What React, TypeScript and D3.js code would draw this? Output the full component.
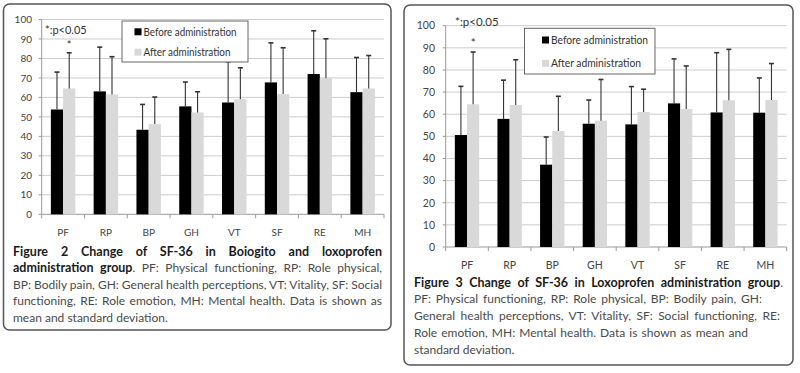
import React, { useLayoutEffect, useRef, useState } from "react";
import * as d3 from "d3";

const categories = ["PF", "RP", "BP", "GH", "VT", "SF", "RE", "MH"];
const yTicks = [0, 10, 20, 30, 40, 50, 60, 70, 80, 90, 100];
const seriesNames = ["Before administration", "After administration"];

// Figure 2 (Boiogito and loxoprofen)
const fig2Before = [53.8, 63.1, 43.4, 55.4, 57.4, 67.7, 72.0, 62.7];
const fig2BeforeSD = [19.2, 22.7, 13.0, 12.5, 20.9, 20.3, 22.2, 17.8];
const fig2After = [64.6, 61.5, 46.3, 52.3, 59.1, 61.7, 69.9, 64.6];
const fig2AfterSD = [18.3, 19.4, 13.9, 10.6, 16.1, 23.8, 20.2, 16.9];

// Figure 3 (Loxoprofen)
const fig3Before = [50.6, 57.9, 37.2, 55.7, 55.4, 64.9, 60.8, 60.7];
const fig3BeforeSD = [22.0, 17.5, 12.5, 10.7, 17.1, 20.1, 27.0, 15.7];
const fig3After = [64.5, 64.2, 52.4, 57.1, 61.0, 62.4, 66.3, 66.4];
const fig3AfterSD = [23.6, 20.4, 15.7, 18.6, 10.3, 19.4, 23.0, 16.5];

const significant = ["PF"];
const sigNote = "*:p<0.05";

const FONT = "Lato, 'Open Sans', sans-serif";
const BAR_COLORS = ["#000000", "#d9d9d9"];

type PanelProps = {
  before: number[];
  beforeSD: number[];
  after: number[];
  afterSD: number[];
  xRange: [number, number];
  yRange: [number, number];
  fontSize: number;
  yLabelX: number;
  xLabelY: number;
  legend: { x: number; y: number; w: number; h: number; sq: number; textX: number; rows: number[]; textLen: number[] };
  note: { x: number; y: number };
  starY: number;
};

function Panel(p: PanelProps) {
  const x = d3.scaleBand<string>().domain(categories).range(p.xRange).paddingInner(0).paddingOuter(0);
  const inner = d3.scaleBand<string>().domain(["before", "after"]).range([0, x.bandwidth()]).paddingInner(0).paddingOuter(0.75);
  const y = d3.scaleLinear().domain([0, 100]).range(p.yRange);
  const series = [
    { key: "before", vals: p.before, sd: p.beforeSD, color: BAR_COLORS[0] },
    { key: "after", vals: p.after, sd: p.afterSD, color: BAR_COLORS[1] },
  ];
  const [x0, x1] = p.xRange;
  const bounds = categories.map((c) => x(c)!).concat([x1]);
  return (
    <g>
      {yTicks.map((t) => (
        <g key={t}>
          {t > 0 && <line x1={x0} x2={x1} y1={y(t)} y2={y(t)} stroke="#cccccc" strokeWidth={1} />}
          <line x1={x0 - 3} x2={x0} y1={y(t)} y2={y(t)} stroke="#999" strokeWidth={1} />
          <text x={p.yLabelX} y={y(t) + p.fontSize * 0.36} textAnchor="end" fontSize={p.fontSize} fill="#444" fontFamily={FONT}>
            {t}
          </text>
        </g>
      ))}
      <line x1={x0} x2={x0} y1={y(0)} y2={y(100)} stroke="#999" strokeWidth={1} />
      <line x1={x0} x2={x1} y1={y(0)} y2={y(0)} stroke="#999" strokeWidth={1} />
      {bounds.map((b, i) => (
        <line key={i} x1={b} x2={b} y1={y(0)} y2={y(0) + 4} stroke="#999" strokeWidth={1} />
      ))}
      {series.map((s) =>
        categories.map((c, i) => {
          const bx = x(c)! + inner(s.key)!;
          const bw = inner.bandwidth();
          const cx = bx + bw / 2;
          return (
            <g key={s.key + c}>
              <rect x={bx} y={y(s.vals[i])} width={bw} height={y(0) - y(s.vals[i])} fill={s.color} />
              <line x1={cx} x2={cx} y1={y(s.vals[i])} y2={y(s.vals[i] + s.sd[i])} stroke="#333" strokeWidth={1.1} />
              <line x1={cx - 2.5} x2={cx + 2.5} y1={y(s.vals[i] + s.sd[i])} y2={y(s.vals[i] + s.sd[i])} stroke="#333" strokeWidth={1.6} />
            </g>
          );
        })
      )}
      {categories.map((c) => (
        <text key={c} x={x(c)! + x.bandwidth() / 2} y={p.xLabelY} textAnchor="middle" fontSize={p.fontSize} fill="#444" fontFamily={FONT}>
          {c}
        </text>
      ))}
      {significant.map((c) => (
        <text key={c} x={x(c)! + inner("after")! + inner.bandwidth() / 2} y={p.starY} textAnchor="middle" fontSize={p.fontSize + 1} fill="#333" fontFamily={FONT}>
          *
        </text>
      ))}
      <text x={p.note.x} y={p.note.y} fontSize={p.fontSize + 1} fill="#333" fontFamily={FONT}>
        {sigNote}
      </text>
      <rect x={p.legend.x} y={p.legend.y} width={p.legend.w} height={p.legend.h} fill="#fff" stroke="#666" strokeWidth={1} />
      {seriesNames.map((n, i) => (
        <g key={n}>
          <rect x={p.legend.textX - p.legend.sq - 2} y={p.legend.rows[i] - p.legend.sq / 2} width={p.legend.sq} height={p.legend.sq} fill={BAR_COLORS[i]} />
          <text x={p.legend.textX} y={p.legend.rows[i] + p.fontSize * 0.38} fontSize={p.fontSize + 0.5} fill="#333" fontFamily={FONT} textLength={p.legend.textLen[i]} lengthAdjust="spacingAndGlyphs">
            {n}
          </text>
        </g>
      ))}
    </g>
  );
}

type Line = { parts: { t: string; bold?: boolean }[]; len?: number };

function CaptionLine({ x, y, line }: { x: number; y: number; line: Line }) {
  const ref = useRef<SVGTextElement>(null);
  const [ws, setWs] = useState(0);
  useLayoutEffect(() => {
    const el = ref.current;
    if (!el || !line.len) return;
    el.setAttribute("word-spacing", "0");
    const natural = el.getComputedTextLength();
    const text = line.parts.map((p) => p.t).join("");
    const gaps = (text.match(/ /g) || []).length;
    if (gaps > 0) setWs((line.len - natural) / gaps);
  }, [line]);
  return (
    <text ref={ref} x={x} y={y} fontSize={12} fontFamily={FONT} fill="#4a4a4a" wordSpacing={ws} style={{ whiteSpace: "pre" }}>
      {line.parts.map((pt, j) => (
        <tspan key={j} fontWeight={pt.bold ? 700 : 400} fontSize={pt.bold ? 12.5 : 12} fill={pt.bold ? "#1a1a1a" : "#4a4a4a"}>
          {pt.t}
        </tspan>
      ))}
    </text>
  );
}

function Caption({ x, y0, dy, lines }: { x: number; y0: number; dy: number; lines: Line[] }) {
  return (
    <g>
      {lines.map((l, i) => (
        <CaptionLine key={i} x={x} y={y0 + i * dy} line={l} />
      ))}
    </g>
  );
}

const caption2: Line[] = [
  { parts: [{ t: "Figure 2 Change of SF-36 in Boiogito and loxoprofen", bold: true }], len: 369 },
  { parts: [{ t: "administration group", bold: true }, { t: ". PF: Physical functioning, RP: Role physical," }], len: 369 },
  { parts: [{ t: "BP: Bodily pain, GH: General health perceptions, VT: Vitality, SF: Social" }], len: 369 },
  { parts: [{ t: "functioning, RE: Role emotion, MH: Mental health. Data is shown as" }], len: 369 },
  { parts: [{ t: "mean and standard deviation." }] },
];

const caption3: Line[] = [
  { parts: [{ t: "Figure 3 Change of SF-36 in Loxoprofen administration group", bold: true }, { t: "." }], len: 369 },
  { parts: [{ t: "PF: Physical functioning, RP: Role physical, BP: Bodily pain, GH:" }], len: 348 },
  { parts: [{ t: "General health perceptions, VT: Vitality, SF: Social functioning, RE:" }], len: 366 },
  { parts: [{ t: "Role emotion, MH: Mental health. Data is shown as mean and" }], len: 334 },
  { parts: [{ t: "standard deviation." }] },
];

export default function App() {
  return (
    <div style={{ position: "fixed", left: 0, top: 0 }}>
      <svg width={800} height={373} style={{ display: "block", background: "#fff" }}>
        <rect x={3.5} y={4} width={387.5} height={326} rx={6} fill="#fff" stroke="#555" strokeWidth={1.5} />
        <rect x={404} y={5} width={389} height={360} rx={6} fill="#fff" stroke="#555" strokeWidth={1.5} />
        <Panel
          before={fig2Before}
          beforeSD={fig2BeforeSD}
          after={fig2After}
          afterSD={fig2AfterSD}
          xRange={[41.7, 384]}
          yRange={[214.3, 19.5]}
          fontSize={10}
          yLabelX={32}
          xLabelY={236}
          legend={{ x: 122, y: 21, w: 126, h: 41, sq: 7, textX: 143.5, rows: [31.8, 52.2], textLen: [93, 87] }}
          note={{ x: 45, y: 34 }}
          starY={48.5}
        />
        <Panel
          before={fig3Before}
          beforeSD={fig3BeforeSD}
          after={fig3After}
          afterSD={fig3AfterSD}
          xRange={[445.7, 786.7]}
          yRange={[247, 25.7]}
          fontSize={10.5}
          yLabelX={435}
          xLabelY={268.5}
          legend={{ x: 524.5, y: 28.3, w: 130.5, h: 45.7, sq: 7, textX: 551, rows: [40, 63.3], textLen: [97, 90] }}
          note={{ x: 455, y: 25.5 }}
          starY={46.5}
        />
        <Caption x={13} y0={255.5} dy={16.5} lines={caption2} />
        <Caption x={414} y0={286.7} dy={16.75} lines={caption3} />
      </svg>
    </div>
  );
}
